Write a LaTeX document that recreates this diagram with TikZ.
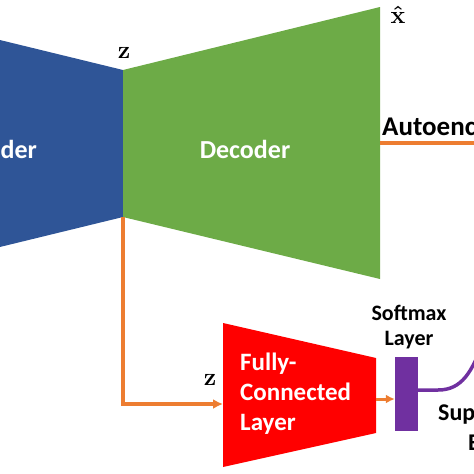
\documentclass[tikz,border=0pt]{standalone}
\usepackage[no-math]{fontspec}
\setmainfont{Carlito}
\usetikzlibrary{arrows.meta, positioning, calc}

\definecolor{encblue}{HTML}{2F5597}
\definecolor{decgreen}{HTML}{6DAB47}
\definecolor{fcred}{HTML}{FF0000}
\definecolor{lossorange}{HTML}{ED7D31}
\definecolor{smpurple}{HTML}{7030A0}

\tikzset{
  blocktext/.style={text=white, inner sep=0pt, font=\bfseries\fontsize{26}{30}\selectfont},
  labeltext/.style={text=black, inner sep=0pt, align=center, font=\bfseries\fontsize{22}{25}\selectfont},
  vartext/.style={inner sep=0pt, font=\boldmath\fontsize{27}{30}\selectfont},
  lossline/.style={draw=lossorange, line width=3.5pt},
  softline/.style={draw=smpurple, line width=3.5pt},
}

\begin{document}
\begin{tikzpicture}[x=1pt, y=-1pt, >={Latex[length=10pt, width=10pt]}]
\useasboundingbox (0,0) rectangle (474,474);
\clip (0,0) rectangle (474,474);

% encoder and decoder
\coordinate (ztop) at (123,70);
\coordinate (zbot) at (123,217);
\fill[encblue] (-60,25.4) -- (ztop) -- (zbot) -- (-60,261.6) -- cycle;
\fill[decgreen] (ztop) -- (380,7) -- (380,279) -- (zbot) -- cycle;
\node[blocktext, anchor=base east] (enc) at (37,158) {Encoder};
\node[blocktext, anchor=base] (dec) at (245,158) {Decoder};
\node[vartext] (zenc) at (124,53) {$\mathbf{z}$};
\node[vartext] (xhat) at (398,15) {$\hat{\mathbf{x}}$};

% autoencoder error
\coordinate (decout) at (380,143);
\draw[lossline] (decout) -- (490,143);
\node[blocktext, text=black, anchor=base west, font=\bfseries\fontsize{27}{30}\selectfont] (aeerr) at (382,135) {Autoencoder};

% fully-connected layer
\coordinate (fcin) at (223,404);
\coordinate (fcout) at (376,399);
\fill[fcred] (223,323) -- (376,358) -- (376,433) -- (223,467) -- cycle;
\node[blocktext, anchor=west, align=left, font=\bfseries\fontsize{25}{30}\selectfont] (fc) at (240,394) {Fully-\\Connected\\Layer};
\draw[lossline, ->] (zbot) |- (fcin);
\node[vartext] (zfc) at (210,380) {$\mathbf{z}$};

% softmax
\node[fill=smpurple, minimum width=23pt, minimum height=74pt, inner sep=0pt] (softmax) at (406.5,394) {};
\node[labeltext] (smlabel) at (409,327) {Softmax\\Layer};
\draw[lossline, ->, line width=3pt, >={Latex[length=9pt, width=9pt]}] (fcout) -- (fcout -| softmax.west);

% supervised error
\coordinate (smout) at (418,390);
\draw[softline] (smout) -- (438,390) .. controls (462,390) and (472,372) .. (484,340);
\node[labeltext, font=\bfseries\fontsize{24}{30}\selectfont] (superr) at (493,427) {Supervised\\Error};
\end{tikzpicture}
\end{document}
